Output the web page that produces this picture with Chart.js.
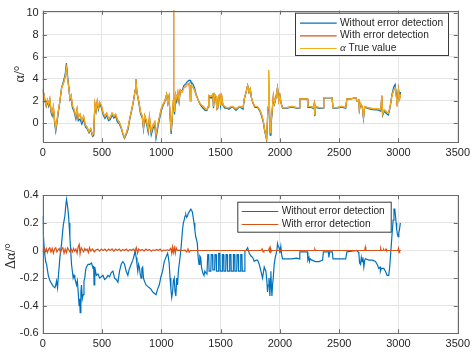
<!DOCTYPE html>
<html><head><meta charset="utf-8">
<script src="https://cdn.jsdelivr.net/npm/chart.js@4.4.0/dist/chart.umd.min.js"></script>
<style>
html,body{margin:0;padding:0;background:#fff;}
#wrap{position:relative;width:474px;height:355px;}
canvas{position:absolute;left:0;top:0;}
</style></head><body>
<div id="wrap"><canvas id="c1" width="474" height="355"></canvas><canvas id="c2" width="474" height="355"></canvas></div>
<script>
// ---------- tick labels ----------
const xTicks = [0,500,1000,1500,2000,2500,3000,3500];
const yTicksTop = [0,2,4,6,8,10];
const yTicksBot = [-0.6,-0.4,-0.2,0,0.2,0.4];

// ---------- top plot: alpha ----------
const topX = [
0,10,20,30,40,50,60,70,80,90,
100,110,120,130,145,160,175,190,200,210,
220,230,240,250,265,280,290,300,315,330,
345,360,375,390,405,420,430,440,450,460,
470,480,495,510,525,540,555,570,585,600,
615,630,645,660,675,690,705,720,735,750,
765,780,785,795,810,825,840,850,860,875,
890,900,915,930,945,955,970,985,1000,1015,
1030,1045,1055,1065,1075,1083,1092,1100,1103,1107,
1112,1120,1130,1140,1150,1160,1175,1190,1205,1220,
1235,1245,1250,1265,1280,1295,1310,1325,1340,1355,
1370,1385,1395,1400,1420,1435,1440,1450,1462,1468,
1478,1485,1495,1500,1510,1520,1535,1550,1570,1600,
1630,1660,1690,1700,1715,1728,1740,1750,1762,1775,
1790,1810,1830,1845,1860,1870,1880,1888,1895,1900,
1905,1912,1918,1925,1935,1945,1955,1968,1980,1990,
2000,2010,2022,2060,2100,2140,2165,2168,2200,2232,
2236,2260,2280,2290,2294,2300,2330,2365,2370,2400,
2440,2448,2480,2520,2555,2565,2600,2640,2650,2665,
2670,2680,2695,2705,2715,2740,2780,2820,2850,2860,
2866,2880,2900,2915,2930,2945,2960,2972,2982,2990,
3000,3010,3018];

const alphaTrue = [
2.9,2.6,2.0,1.6,2.1,1.7,2.2,1.2,0.9,1.5,
0.3,-0.5,0.2,1.0,2.0,3.2,3.6,4.2,5.0,4.0,
3.2,2.2,2.5,1.6,1.2,0.6,1.3,0.5,0.8,0.2,
0.6,-0.2,-0.4,-0.8,-0.5,-1.1,-0.9,1.8,1.2,2.0,
1.4,1.9,1.6,0.9,0.6,0.9,0.4,0.5,0.9,0.6,
0.8,0.3,0.1,-0.3,-0.9,-1.3,-0.9,-0.4,0.5,1.2,
2.0,3.0,4.0,2.8,2.0,1.0,0.6,-0.4,0.7,0.2,
-0.6,0.6,-0.8,-0.2,0.1,-1.1,-0.2,0.6,1.3,1.7,
2.0,2.6,1.8,2.4,0.6,-0.7,0.5,2.0,10.8,2.5,
1.0,2.6,2.2,2.8,2.0,3.0,2.8,3.2,3.3,3.5,
3.6,2.0,3.4,3.3,3.0,2.5,2.1,1.8,1.6,1.5,
1.3,1.2,1.5,2.5,2.4,2.6,1.5,2.6,2.4,1.3,
1.5,2.5,2.6,1.6,2.4,1.6,1.5,1.4,1.4,1.5,
1.3,1.5,1.4,2.2,2.8,3.4,2.8,3.1,2.2,1.8,
1.5,1.5,1.2,0.8,0.2,-0.5,-1.0,-1.4,0.3,1.5,
4.8,1.5,-0.9,0.0,1.2,2.5,1.8,2.4,3.2,2.0,
2.5,1.8,1.4,1.4,1.5,1.4,1.4,2.2,2.2,2.2,
1.5,1.5,1.4,1.8,0.7,1.5,1.4,1.4,2.3,2.3,
2.3,1.4,1.4,1.5,1.4,2.2,2.2,2.3,2.0,2.1,
1.2,1.8,1.5,0.5,1.5,1.4,1.3,1.3,1.2,2.5,
0.8,1.2,1.0,0.9,1.5,2.5,3.0,3.2,2.4,1.5,
3.0,2.2,2.6];

const alphaWithout = [
3.1,2.65,1.95,1.5,1.97,1.52,1.98,0.96,0.65,1.24,
0.03,-0.77,-0.04,0.8,1.95,3.26,3.78,4.45,5.45,4.28,
3.3,2.1,2.3,1.4,1.02,0.35,1.02,0.2,0.35,-0.1,
0.35,-0.35,-0.52,-0.9,-0.59,-1.23,-1.15,1.68,1.02,1.82,
1.21,1.7,1.4,0.72,0.41,0.7,0.21,0.31,0.73,0.45,
0.6,0.07,-0.06,-0.42,-0.98,-1.4,-1.05,-0.58,0.38,1.11,
1.95,2.99,3.98,2.7,1.87,0.82,0.46,-0.6,0.47,-0.05,
-0.87,0.33,-1.09,-0.5,-0.21,-1.42,-0.48,0.36,1.11,1.56,
1.93,2.57,1.78,2.32,0.4,-1.0,0.18,1.7,1.9,2.3,
0.78,2.27,1.92,2.58,1.9,2.97,2.9,3.4,3.55,3.75,
3.88,3.85,3.7,3.57,3.2,2.58,2.1,1.72,1.48,1.32,
1.15,1.12,1.45,2.45,2.25,2.57,1.35,2.57,2.25,1.25,
1.35,2.47,2.45,1.57,2.25,1.57,1.35,1.37,1.25,1.47,
1.15,1.47,1.25,2.2,2.81,3.42,2.79,3.07,2.15,1.74,
1.42,1.43,1.1,0.65,0.05,-0.63,-1.15,-1.55,0.0,1.25,
1.2,1.2,-1.1,-0.15,0.9,2.32,1.72,2.37,3.22,2.05,
2.52,1.83,1.34,1.34,1.44,1.34,1.34,2.19,2.19,2.19,
1.43,1.44,1.32,1.75,0.62,1.42,1.32,1.35,2.29,2.29,
2.28,1.34,1.34,1.44,1.34,2.19,2.19,2.3,2.0,2.08,
1.15,1.7,1.42,0.38,1.43,1.33,1.22,1.2,1.07,2.37,
0.67,1.06,0.83,0.72,1.44,2.61,3.28,3.5,2.6,1.62,
3.1,2.35,2.8];

const alphaWith = [
2.9,2.6,2.0,1.6,2.1,1.7,2.2,1.2,0.9,1.5,
0.3,-0.5,0.2,1.0,2.0,3.2,3.6,4.2,5.0,4.0,
3.2,2.2,2.5,1.6,1.2,0.6,1.3,0.5,0.8,0.2,
0.6,-0.2,-0.4,-0.8,-0.5,-1.1,-0.9,1.8,1.2,2.0,
1.4,1.9,1.6,0.9,0.6,0.9,0.4,0.5,0.9,0.6,
0.8,0.3,0.1,-0.3,-0.9,-1.3,-0.9,-0.4,0.5,1.2,
2.0,3.0,4.0,2.8,2.0,1.0,0.6,-0.4,0.7,0.2,
-0.6,0.6,-0.8,-0.2,0.1,-1.1,-0.2,0.6,1.3,1.7,
2.0,2.6,1.8,2.4,0.6,-0.7,0.5,2.0,10.8,2.5,
1.0,2.6,2.2,2.8,2.0,3.0,2.8,3.2,3.3,3.5,
3.6,2.0,3.4,3.3,3.0,2.5,2.1,1.8,1.6,1.5,
1.3,1.2,1.5,2.5,2.4,2.6,1.5,2.6,2.4,1.3,
1.5,2.5,2.6,1.6,2.4,1.6,1.5,1.4,1.4,1.5,
1.3,1.5,1.4,2.2,2.8,3.4,2.8,3.1,2.2,1.8,
1.5,1.5,1.2,0.8,0.2,-0.5,-1.0,-1.4,0.3,1.5,
4.8,1.5,-0.9,0.0,1.2,2.5,1.8,2.4,3.2,2.0,
2.5,1.8,1.4,1.4,1.5,1.4,1.4,2.2,2.2,2.2,
1.5,1.5,1.4,1.8,0.7,1.5,1.4,1.4,2.3,2.3,
2.3,1.4,1.4,1.5,1.4,2.2,2.2,2.3,2.0,2.1,
1.2,1.8,1.5,0.5,1.5,1.4,1.3,1.3,1.2,2.5,
0.8,1.2,1.0,0.9,1.5,2.5,3.0,3.2,2.4,1.5,
3.0,2.2,2.6];

// ---------- bottom plot: delta alpha ----------
const dX = [
0,5,14,25,33,47,61,75,89,103,
110,117,125,131,145,159,173,187,195,201,
208,215,222,229,243,257,264,271,285,292,
299,307,312,316,322,327,334,341,348,355,
362,369,383,397,411,425,430,433,437,441,
452,466,480,494,508,522,536,550,564,578,
592,606,620,634,648,662,676,690,704,718,
728,737,750,760,770,779,788,795,802,808,
815,822,830,836,843,850,857,871,885,899,
913,927,941,955,969,983,997,1011,1025,1039,
1053,1060,1067,1074,1081,1088,1095,1102,1109,1116,
1123,1130,1137,1144,1151,1165,1179,1186,1193,1200,
1207,1214,1221,1228,1235,1249,1256,1262,1269,1276,
1283,1290,1297,1304,1311,1318,1325,1332,1339,1346,
1353,1360,1367,1374,1385,1392,1400,1403,1418,1421,
1432,1435,1450,1453,1463,1466,1481,1484,1494,1497,
1512,1515,1525,1528,1543,1546,1556,1559,1574,1577,
1587,1590,1605,1608,1618,1621,1636,1639,1649,1652,
1667,1670,1680,1683,1698,1705,1714,1728,1742,1756,
1770,1784,1798,1812,1826,1840,1854,1868,1882,1890,
1896,1901,1908,1916,1921,1924,1928,1933,1938,1944,
1952,1961,1975,1980,1986,1994,2000,2008,2015,2022,
2060,2100,2140,2165,2168,2232,2236,2245,2250,2256,
2270,2300,2330,2360,2367,2410,2413,2420,2442,2448,
2555,2565,2650,2660,2666,2672,2680,2687,2694,2700,
2708,2715,2722,2750,2780,2806,2820,2834,2845,2848,
2855,2862,2876,2890,2904,2918,2926,2932,2946,2955,
2962,2969,2975,2980,2985,2991,2997,3003,3008,3016];

const dWithout = [
0.25,0.12,0.0,-0.08,-0.1,-0.18,-0.22,-0.24,-0.26,-0.27,
-0.25,-0.22,-0.27,-0.2,-0.05,0.05,0.18,0.25,0.33,0.37,
0.33,0.28,0.2,0.1,-0.1,-0.2,-0.18,-0.2,-0.25,-0.22,
-0.3,-0.4,-0.35,-0.45,-0.3,-0.25,-0.35,-0.32,-0.22,-0.2,
-0.14,-0.12,-0.1,-0.1,-0.09,-0.13,-0.11,-0.25,-0.12,-0.12,
-0.18,-0.17,-0.2,-0.19,-0.18,-0.21,-0.2,-0.18,-0.19,-0.16,
-0.15,-0.2,-0.21,-0.23,-0.15,-0.1,-0.08,-0.1,-0.15,-0.18,
-0.14,-0.12,-0.09,-0.07,-0.04,0.0,-0.05,-0.1,-0.15,-0.1,
-0.12,-0.17,-0.2,-0.13,-0.12,-0.2,-0.22,-0.25,-0.26,-0.27,
-0.28,-0.3,-0.31,-0.32,-0.28,-0.25,-0.19,-0.15,-0.08,-0.05,
-0.02,-0.05,-0.1,-0.2,-0.28,-0.34,-0.3,-0.22,-0.2,-0.3,
-0.33,-0.2,-0.25,-0.15,-0.1,0.0,0.15,0.2,0.22,0.25,
0.26,0.24,0.25,0.27,0.28,0.3,0.29,0.28,0.24,0.2,
0.15,0.1,0.08,0.05,-0.05,-0.1,-0.04,-0.05,-0.12,-0.15,
-0.17,-0.18,-0.15,-0.16,-0.17,-0.03,-0.03,-0.15,-0.15,-0.03,
-0.03,-0.14,-0.14,-0.03,-0.03,-0.15,-0.15,-0.02,-0.02,-0.15,
-0.15,-0.03,-0.03,-0.15,-0.15,-0.03,-0.03,-0.15,-0.15,-0.03,
-0.03,-0.15,-0.15,-0.03,-0.03,-0.15,-0.15,-0.03,-0.03,-0.15,
-0.15,-0.03,-0.03,-0.15,-0.15,0.0,0.0,0.02,-0.02,-0.04,
-0.05,-0.08,-0.07,-0.07,-0.1,-0.15,-0.2,-0.12,-0.15,-0.22,
-0.3,-0.25,-0.2,-0.33,-0.2,-0.15,-0.25,-0.33,-0.25,-0.2,
-0.1,-0.05,0.0,0.05,0.03,0.02,-0.02,0.03,-0.03,-0.06,
-0.06,-0.06,-0.055,-0.06,-0.01,-0.01,-0.07,-0.05,-0.08,-0.06,
-0.07,-0.08,-0.08,-0.07,-0.01,-0.01,-0.05,-0.01,-0.01,-0.06,
-0.06,-0.01,0.0,-0.01,-0.02,-0.09,-0.1,-0.05,-0.08,-0.05,
-0.12,-0.07,-0.06,-0.07,-0.07,-0.08,-0.1,-0.13,-0.12,-0.15,
-0.13,-0.13,-0.13,-0.15,-0.18,-0.18,-0.12,-0.05,0.12,0.22,
0.3,0.3,0.25,0.2,0.15,0.12,0.1,0.13,0.15,0.2];

const dWithX = [
0,10,20,30,40,50,60,70,80,90,
100,110,120,130,140,150,160,170,180,190,
200,210,220,230,240,250,260,270,280,290,
300,308,315,325,335,345,355,365,375,385,
395,405,420,435,450,465,480,495,510,525,
540,555,570,585,600,615,630,645,660,675,
690,705,720,735,750,765,780,790,800,810,
825,840,855,870,885,900,915,930,945,960,
975,990,1005,1020,1035,1050,1065,1080,1088,1095,
1102,1110,1118,1125,1135,1150,1175,1200,1215,1225,
1235,1245,1300,1500,1840,1850,1858,1866,1905,1910,
1915,1920,1925,1932,2290,2295,2300,2715,2720,2725,
2845,2850,2855,2870,2875,2880,2890,2895,2900,2995,
3000,3005,3010,3020];

const dWith = [
0,0.02,-0.01,0.015,-0.015,0.01,0.02,-0.01,0.015,-0.02,
0.01,0.02,-0.01,0.005,0.015,-0.015,0.01,0.02,-0.02,0.01,
-0.015,0.02,0.005,-0.01,0.01,-0.01,0.015,-0.005,0.01,-0.02,
0.03,0.045,-0.025,0.02,0.005,-0.01,0.015,0,0.01,-0.015,
0.02,-0.005,0.01,-0.01,0.005,0.01,-0.005,0.01,0,0.01,
-0.005,0.01,0,0.012,-0.005,0.01,0,0.01,-0.005,0.008,
0,0.01,-0.005,0.008,0,0.01,-0.01,0.02,-0.02,0.01,
0,0.008,-0.005,0.01,0,0.008,-0.005,0.005,0,0.008,
0,0.01,-0.005,0.005,0,0.005,0,0.015,-0.02,0.025,
-0.015,0.02,-0.02,0.02,0,0.003,0,0.002,-0.01,0.012,
-0.012,0,0,0,0,0.012,-0.01,0,0,0.015,
-0.015,0.015,-0.01,0,0,0.01,0,0,0.025,0,
0,0.015,0,0,0.008,0,0,0.01,0,0,
0.015,-0.015,0,0];

// ---------- drawing ----------
const C_BLUE = '#0072BD', C_RED = '#D95319', C_YEL = '#EDB120';
const AX = '#262626';
const pts = (xs, ys) => xs.map((x, i) => ({x: x, y: ys[i]}));

const matlabAxes = {
  id: 'matlabAxes',
  afterDraw(chart, args, o) {
    const ctx = chart.ctx, a = chart.chartArea, sx = chart.scales.x, sy = chart.scales.y;
    ctx.save();
    ctx.strokeStyle = o.boxColor; ctx.lineWidth = 1;
    const L = 4;
    ctx.beginPath();
    sx.ticks.forEach(t => {
      const p = Math.round(sx.getPixelForValue(t.value)) + 0.5;
      ctx.moveTo(p, a.bottom); ctx.lineTo(p, a.bottom - L);
      ctx.moveTo(p, a.top); ctx.lineTo(p, a.top + L);
    });
    sy.ticks.forEach(t => {
      const p = Math.round(sy.getPixelForValue(t.value)) + 0.5;
      ctx.moveTo(a.left, p); ctx.lineTo(a.left + L, p);
      ctx.moveTo(a.right, p); ctx.lineTo(a.right - L, p);
    });
    ctx.stroke();
    ctx.strokeRect(Math.round(a.left) + 0.5, Math.round(a.top) + 0.5, Math.round(a.right) - Math.round(a.left), Math.round(a.bottom) - Math.round(a.top));

    // y axis title
    ctx.save();
    ctx.fillStyle = AX; ctx.font = o.titleFont; ctx.textAlign = 'center'; ctx.textBaseline = 'middle';
    ctx.translate(o.titleX, o.titleY); ctx.rotate(-Math.PI / 2);
    ctx.fillText(o.title, 0, 0);
    ctx.restore();

    // legend
    const lg = o.legend;
    ctx.fillStyle = '#fff';
    ctx.fillRect(lg.x, lg.y, lg.w, lg.h);
    ctx.strokeStyle = o.legendBorder; ctx.lineWidth = 1;
    ctx.strokeRect(lg.x + 0.5, lg.y + 0.5, lg.w, lg.h);
    lg.items.forEach((idx, i) => {
      const ds = chart.data.datasets[idx];
      const y = lg.rows[i];
      ctx.strokeStyle = ds.borderColor; ctx.lineWidth = 1.2;
      ctx.beginPath(); ctx.moveTo(lg.x0, y + 0.5); ctx.lineTo(lg.x1, y + 0.5); ctx.stroke();
      ctx.fillStyle = AX; ctx.textAlign = 'left'; ctx.textBaseline = 'middle';
      let tx = lg.tx, label = ds.label;
      if (label.charAt(0) === 'α') {
        ctx.font = lg.greekFont;
        ctx.fillText('α', tx, y);
        tx += ctx.measureText('α').width;
        label = label.slice(1);
      }
      ctx.font = lg.font;
      ctx.fillText(label, tx, y);
    });
    ctx.restore();
  }
};

Chart.defaults.font.family = "'Liberation Sans', Arial, sans-serif";
Chart.defaults.font.size = 11;
Chart.defaults.color = AX;

function makeChart(id, datasets, yMin, yMax, yTicks, fmt, pad, axesOpts) {
  return new Chart(document.getElementById(id), {
    type: 'line',
    data: {datasets: datasets},
    options: {
      responsive: false, animation: false, devicePixelRatio: 1,
      layout: {padding: pad},
      elements: {point: {radius: 0}, line: {borderWidth: 1.2, tension: 0}},
      plugins: {legend: {display: false}, tooltip: {enabled: false}, matlabAxes: axesOpts},
      scales: {
        x: {
          type: 'linear', min: 0, max: 3500,
          afterBuildTicks: s => { s.ticks = xTicks.map(v => ({value: v})); },
          afterFit: s => { s.height = 20; },
          grid: {color: '#e4e4e4', drawTicks: false},
          border: {display: false},
          ticks: {padding: 4, maxRotation: 0, autoSkip: false, color: AX, callback: v => String(v)}
        },
        y: {
          type: 'linear', min: yMin, max: yMax,
          afterBuildTicks: s => { s.ticks = yTicks.map(v => ({value: v})); },
          afterFit: s => { s.width = 42.7; },
          grid: {color: '#e4e4e4', drawTicks: false},
          border: {display: false},
          ticks: {padding: 4, autoSkip: false, color: AX, callback: fmt}
        }
      }
    },
    plugins: [matlabAxes]
  });
}

makeChart('c1', [
  {label: 'Without error detection', data: pts(topX, alphaWithout), borderColor: C_BLUE, order: 2},
  {label: 'With error detection', data: pts(topX, alphaWith), borderColor: C_RED, order: 1},
  {label: 'α True value', data: pts(topX, alphaTrue), borderColor: C_YEL, order: 0}
], -1.75, 10.2, yTicksTop, v => String(v),
  {left: 0, top: 5, right: 15.7, bottom: 192.7},
  {boxColor: '#6a6a6a', legendBorder: '#3a3a3a', title: 'α/°', titleFont: "14px 'Liberation Serif', serif", titleX: 20, titleY: 74,
   legend: {x: 295, y: 12.7, w: 153, h: 42.3, x0: 300, x1: 336.7, tx: 340, rows: [22.7, 35.3, 48],
            items: [0, 1, 2], font: "10.2px 'Liberation Sans', Arial, sans-serif",
            greekFont: "italic 11px 'Liberation Serif', serif"}});

makeChart('c2', [
  {label: 'Without error detection', data: pts(dX, dWithout), borderColor: C_BLUE, order: 1},
  {label: 'With error detection', data: pts(dWithX, dWith), borderColor: C_RED, order: 0}
], -0.6, 0.4, yTicksBot, v => String(Math.round(v * 10) / 10),
  {left: 0, top: 195.3, right: 15.7, bottom: 1.7},
  {boxColor: '#6a6a6a', legendBorder: '#3a3a3a', title: 'Δα/°', titleFont: "14px 'Liberation Serif', serif", titleX: 11, titleY: 256,
   legend: {x: 237.3, y: 201.7, w: 153.4, h: 30, x0: 241.7, x1: 278.3, tx: 281.7, rows: [211, 224],
            items: [0, 1], font: "10.2px 'Liberation Sans', Arial, sans-serif",
            greekFont: "italic 11px 'Liberation Serif', serif"}});
</script>
</body></html>
